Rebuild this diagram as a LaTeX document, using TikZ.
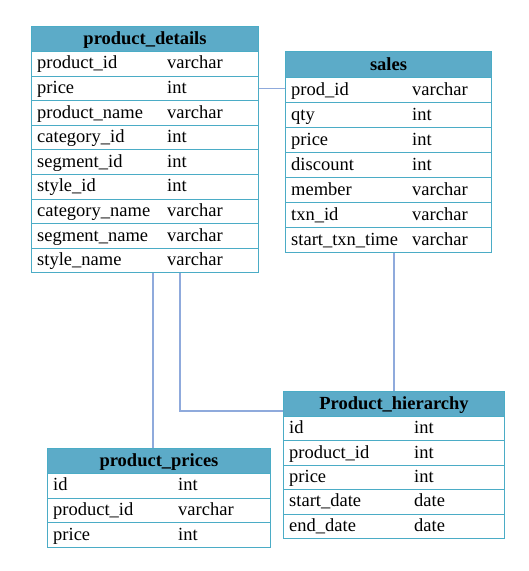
\documentclass[tikz,border=0pt]{standalone}
\usepackage{fontspec}
\setmainfont{Liberation Serif}
\definecolor{tabblue}{RGB}{75,172,198}
\definecolor{headblue}{RGB}{92,171,200}
\definecolor{linkblue}{RGB}{143,170,220}

\begin{document}
\begin{tikzpicture}[x=1pt,y=-1pt,
	tabhead/.style={draw=tabblue,fill=headblue,line width=1pt,inner sep=0pt,minimum height=25pt,anchor=north west},
	tabrow/.style={draw=tabblue,line width=1pt,inner sep=0pt,anchor=north west},
	tabtext/.style={inner sep=0pt,anchor=base west,font=\fontsize{18.5}{20}\selectfont},
	tabtitle/.style={inner sep=0pt,anchor=base,font=\bfseries\fontsize{18.5}{20}\selectfont},
	link/.style={draw=linkblue,line width=1.3pt}]
	\useasboundingbox (0,0) rectangle (529,571);

	\node[tabhead,minimum width=227pt] (pd) at (31,26) {};
	\node[tabtitle] (pdt) at ([yshift=-5.5pt]pd.center) {product\_details};
	\foreach \f/\ty [count=\i] in {product\_id/varchar,price/int,product\_name/varchar,category\_id/int,segment\_id/int,style\_id/int,category\_name/varchar,segment\_name/varchar,style\_name/varchar}{
		\node[tabrow,minimum width=227pt,minimum height=24.6pt] (pd\i) at (31,{51+24.6*(\i-1)}) {};
		\node[tabtext] (pd\i-f) at ([xshift=6pt,yshift=-5pt]pd\i.west) {\f};
		\node[tabtext] (pd\i-t) at ([xshift=136pt,yshift=-5pt]pd\i.west) {\ty};
	}

	\node[tabhead,minimum width=206pt,minimum height=26pt] (s) at (285,51) {};
	\node[tabtitle] (st) at ([yshift=-5.5pt]s.center) {sales};
	\foreach \f/\ty [count=\i] in {prod\_id/varchar,qty/int,price/int,discount/int,member/varchar,txn\_id/varchar,start\_txn\_time/varchar}{
		\node[tabrow,minimum width=206pt,minimum height=25pt] (s\i) at (285,{77+25*(\i-1)}) {};
		\node[tabtext] (s\i-f) at ([xshift=6pt,yshift=-5pt]s\i.west) {\f};
		\node[tabtext] (s\i-t) at ([xshift=127pt,yshift=-5pt]s\i.west) {\ty};
	}

	\node[tabhead,minimum width=221pt] (ph) at (283,391) {};
	\node[tabtitle] (pht) at ([yshift=-5.5pt]ph.center) {Product\_hierarchy};
	\foreach \f/\ty [count=\i] in {id/int,product\_id/int,price/int,start\_date/date,end\_date/date}{
		\node[tabrow,minimum width=221pt,minimum height=24.4pt] (ph\i) at (283,{416+24.4*(\i-1)}) {};
		\node[tabtext] (ph\i-f) at ([xshift=6pt,yshift=-5pt]ph\i.west) {\f};
		\node[tabtext] (ph\i-t) at ([xshift=131pt,yshift=-5pt]ph\i.west) {\ty};
	}

	\node[tabhead,minimum width=223pt] (pp) at (47,448) {};
	\node[tabtitle] (ppt) at ([yshift=-5.5pt]pp.center) {product\_prices};
	\foreach \f/\ty [count=\i] in {id/int,product\_id/varchar,price/int}{
		\node[tabrow,minimum width=223pt,minimum height=24.7pt] (pp\i) at (47,{473+24.7*(\i-1)}) {};
		\node[tabtext] (pp\i-f) at ([xshift=6pt,yshift=-5pt]pp\i.west) {\f};
		\node[tabtext] (pp\i-t) at ([xshift=131pt,yshift=-5pt]pp\i.west) {\ty};
	}

	\draw[link] (pd2.east) -- (pd2.east -| s1.west);
	\draw[link] ([xshift=8pt]pd9.south) -- ([xshift=8pt]pd9.south |- pp.north);
	\draw[link] ([xshift=35pt]pd9.south) |- ([yshift=6pt]ph.south west);
	\draw[link] (ph.north) -- (ph.north |- s7.south);
\end{tikzpicture}
\end{document}
